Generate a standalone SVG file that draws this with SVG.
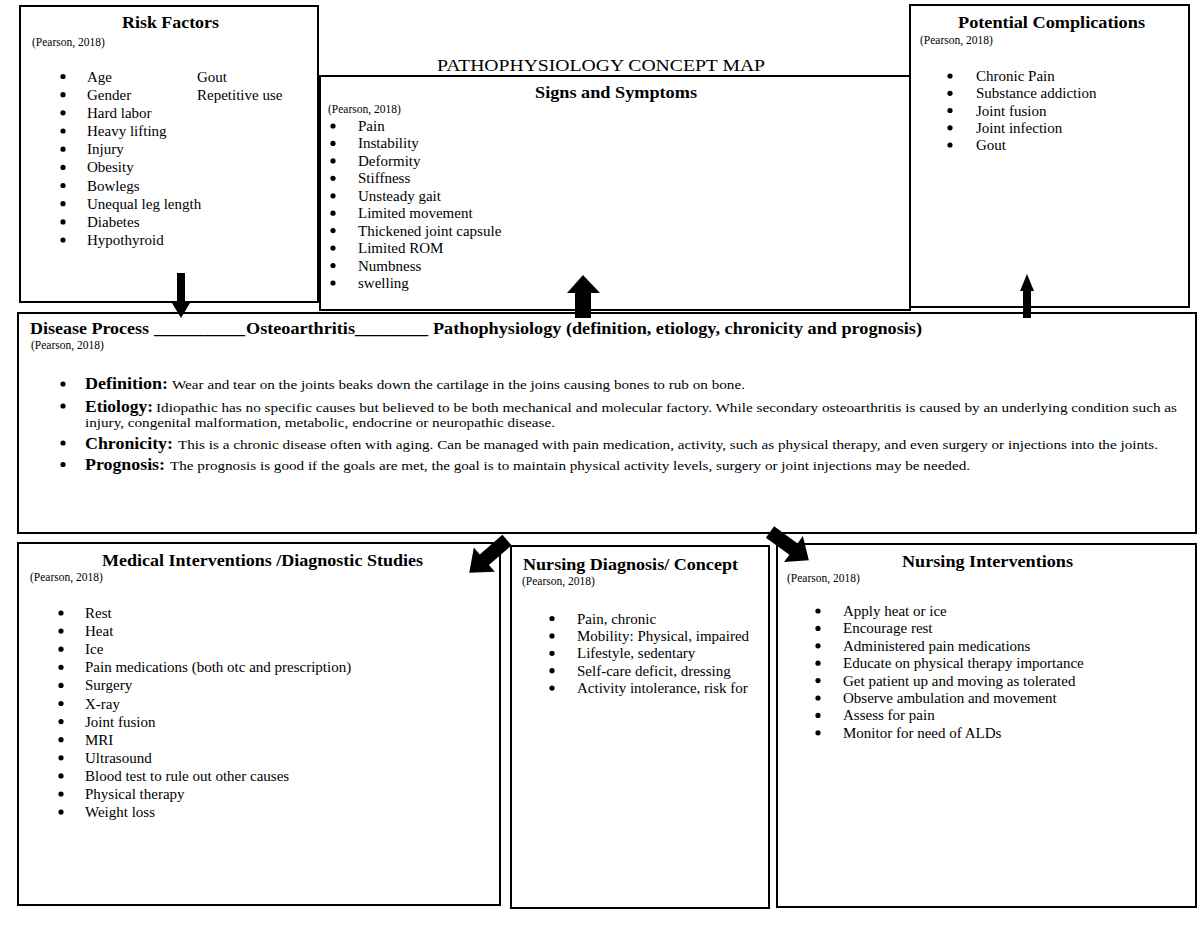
<svg xmlns="http://www.w3.org/2000/svg" width="1200" height="927" viewBox="0 0 1200 927">
<style>
.box{fill:#fff;stroke:#000;stroke-width:2}
text{font-family:"Liberation Serif","Times New Roman",serif;fill:#000}
.ttl{font-size:17px;font-weight:bold}
.cite{font-size:11.5px}
.li{font-size:15px}
.lb{font-size:16px;font-weight:bold}
.bd{font-size:13px}
.bul{fill:#000}
.arr{fill:#000;stroke:none}
</style>
<rect width="1200" height="927" fill="#fff"/>

<g id="risk-factors">
<rect class="box" x="20" y="6" width="298" height="296"/>
<text class="ttl" x="170.5" y="28" text-anchor="middle" textLength="97" lengthAdjust="spacingAndGlyphs">Risk Factors</text>
<text class="cite" x="32" y="46">(Pearson, 2018)</text>
<g class="bul">
<circle cx="63" cy="76.5" r="2.6"/><circle cx="63" cy="94.7" r="2.6"/><circle cx="63" cy="112.8" r="2.6"/><circle cx="63" cy="131" r="2.6"/><circle cx="63" cy="149.2" r="2.6"/><circle cx="63" cy="167.4" r="2.6"/><circle cx="63" cy="185.5" r="2.6"/><circle cx="63" cy="203.7" r="2.6"/><circle cx="63" cy="221.9" r="2.6"/><circle cx="63" cy="240" r="2.6"/>
</g>
<text class="li" x="87" y="81.5">Age</text>
<text class="li" x="87" y="99.7">Gender</text>
<text class="li" x="87" y="117.8">Hard labor</text>
<text class="li" x="87" y="136">Heavy lifting</text>
<text class="li" x="87" y="154.2">Injury</text>
<text class="li" x="87" y="172.4">Obesity</text>
<text class="li" x="87" y="190.5">Bowlegs</text>
<text class="li" x="87" y="208.7">Unequal leg length</text>
<text class="li" x="87" y="226.9">Diabetes</text>
<text class="li" x="87" y="245">Hypothyroid</text>
<text class="li" x="197" y="81.5">Gout</text>
<text class="li" x="197" y="99.7">Repetitive use</text>
</g>

<g id="title">
<text x="601" y="71" text-anchor="middle" font-size="16" textLength="328" lengthAdjust="spacingAndGlyphs">PATHOPHYSIOLOGY CONCEPT MAP</text>
</g>

<g id="signs-symptoms">
<rect class="box" x="320" y="76" width="590" height="234"/>
<text class="ttl" x="616" y="98" text-anchor="middle" textLength="162" lengthAdjust="spacingAndGlyphs">Signs and Symptoms</text>
<text class="cite" x="328" y="113">(Pearson, 2018)</text>
<g class="bul">
<circle cx="333" cy="126" r="2.6"/><circle cx="333" cy="143.4" r="2.6"/><circle cx="333" cy="160.9" r="2.6"/><circle cx="333" cy="178.3" r="2.6"/><circle cx="333" cy="195.8" r="2.6"/><circle cx="333" cy="213.2" r="2.6"/><circle cx="333" cy="230.6" r="2.6"/><circle cx="333" cy="248.1" r="2.6"/><circle cx="333" cy="265.5" r="2.6"/><circle cx="333" cy="283" r="2.6"/>
</g>
<text class="li" x="358" y="131">Pain</text>
<text class="li" x="358" y="148.4">Instability</text>
<text class="li" x="358" y="165.9">Deformity</text>
<text class="li" x="358" y="183.3">Stiffness</text>
<text class="li" x="358" y="200.8">Unsteady gait</text>
<text class="li" x="358" y="218.2">Limited movement</text>
<text class="li" x="358" y="235.6">Thickened joint capsule</text>
<text class="li" x="358" y="253.1">Limited ROM</text>
<text class="li" x="358" y="270.5">Numbness</text>
<text class="li" x="358" y="288">swelling</text>
</g>

<g id="complications">
<rect class="box" x="910" y="5" width="279" height="302"/>
<text class="ttl" x="1051.5" y="28" text-anchor="middle" textLength="187" lengthAdjust="spacingAndGlyphs">Potential Complications</text>
<text class="cite" x="920" y="44">(Pearson, 2018)</text>
<g class="bul">
<circle cx="950" cy="76" r="2.6"/><circle cx="950" cy="93.3" r="2.6"/><circle cx="950" cy="110.5" r="2.6"/><circle cx="950" cy="127.8" r="2.6"/><circle cx="950" cy="145" r="2.6"/>
</g>
<text class="li" x="976" y="81">Chronic Pain</text>
<text class="li" x="976" y="98.3">Substance addiction</text>
<text class="li" x="976" y="115.5">Joint fusion</text>
<text class="li" x="976" y="132.8">Joint infection</text>
<text class="li" x="976" y="150">Gout</text>
</g>

<g id="disease-process">
<rect class="box" x="18" y="313" width="1178" height="220"/>
<text class="ttl" x="30" y="334" textLength="119" lengthAdjust="spacingAndGlyphs">Disease Process</text>
<text class="ttl" x="154" y="334" textLength="91" lengthAdjust="spacingAndGlyphs">___________</text>
<text class="ttl" x="246" y="334" textLength="109" lengthAdjust="spacingAndGlyphs">Osteoarthritis</text>
<text class="ttl" x="355" y="334" textLength="73" lengthAdjust="spacingAndGlyphs">________</text>
<text class="ttl" x="433" y="334" textLength="489" lengthAdjust="spacingAndGlyphs">Pathophysiology (definition, etiology, chronicity and prognosis)</text>
<text class="cite" x="31" y="349">(Pearson, 2018)</text>
<g class="bul">
<circle cx="63" cy="384" r="2.6"/><circle cx="63" cy="406" r="2.6"/><circle cx="63" cy="443" r="2.6"/><circle cx="63" cy="464.5" r="2.6"/>
</g>
<text class="lb" x="85" y="389" textLength="83" lengthAdjust="spacingAndGlyphs">Definition:</text>
<text class="bd" x="172" y="389" textLength="573" lengthAdjust="spacingAndGlyphs">Wear and tear on the joints beaks down the cartilage in the joins causing bones to rub on bone.</text>
<text class="lb" x="85" y="411.5" textLength="68" lengthAdjust="spacingAndGlyphs">Etiology:</text>
<text class="bd" x="156" y="411.5" textLength="1021" lengthAdjust="spacingAndGlyphs">Idiopathic has no specific causes but believed to be both mechanical and molecular factory. While secondary osteoarthritis is caused by an underlying condition such as</text>
<text class="bd" x="85" y="427" textLength="470" lengthAdjust="spacingAndGlyphs">injury, congenital malformation, metabolic, endocrine or neuropathic disease.</text>
<text class="lb" x="85" y="449" textLength="88" lengthAdjust="spacingAndGlyphs">Chronicity:</text>
<text class="bd" x="178" y="449" textLength="980" lengthAdjust="spacingAndGlyphs">This is a chronic disease often with aging. Can be managed with pain medication, activity, such as physical therapy, and even surgery or injections into the joints.</text>
<text class="lb" x="85" y="470" textLength="80" lengthAdjust="spacingAndGlyphs">Prognosis:</text>
<text class="bd" x="170" y="470" textLength="800" lengthAdjust="spacingAndGlyphs">The prognosis is good if the goals are met, the goal is to maintain physical activity levels, surgery or joint injections may be needed.</text>
</g>

<g id="medical-interventions">
<rect class="box" x="18" y="543" width="482" height="362"/>
<text class="ttl" x="262.5" y="566" text-anchor="middle" textLength="321" lengthAdjust="spacingAndGlyphs">Medical Interventions /Diagnostic Studies</text>
<text class="cite" x="30" y="581">(Pearson, 2018)</text>
<g class="bul">
<circle cx="61" cy="613" r="2.6"/><circle cx="61" cy="631.1" r="2.6"/><circle cx="61" cy="649.2" r="2.6"/><circle cx="61" cy="667.3" r="2.6"/><circle cx="61" cy="685.4" r="2.6"/><circle cx="61" cy="703.5" r="2.6"/><circle cx="61" cy="721.6" r="2.6"/><circle cx="61" cy="739.7" r="2.6"/><circle cx="61" cy="757.8" r="2.6"/><circle cx="61" cy="775.9" r="2.6"/><circle cx="61" cy="794" r="2.6"/><circle cx="61" cy="812.1" r="2.6"/>
</g>
<text class="li" x="85" y="618">Rest</text>
<text class="li" x="85" y="636.1">Heat</text>
<text class="li" x="85" y="654.2">Ice</text>
<text class="li" x="85" y="672.3">Pain medications (both otc and prescription)</text>
<text class="li" x="85" y="690.4">Surgery</text>
<text class="li" x="85" y="708.5">X-ray</text>
<text class="li" x="85" y="726.6">Joint fusion</text>
<text class="li" x="85" y="744.7">MRI</text>
<text class="li" x="85" y="762.8">Ultrasound</text>
<text class="li" x="85" y="780.9">Blood test to rule out other causes</text>
<text class="li" x="85" y="799">Physical therapy</text>
<text class="li" x="85" y="817.1">Weight loss</text>
</g>

<g id="nursing-diagnosis">
<rect class="box" x="511" y="546" width="258" height="362"/>
<text class="ttl" x="523" y="570" textLength="215" lengthAdjust="spacingAndGlyphs">Nursing Diagnosis/ Concept</text>
<text class="cite" x="522" y="585">(Pearson, 2018)</text>
<g class="bul">
<circle cx="552" cy="618.5" r="2.6"/><circle cx="552" cy="635.9" r="2.6"/><circle cx="552" cy="653.3" r="2.6"/><circle cx="552" cy="670.7" r="2.6"/><circle cx="552" cy="688.1" r="2.6"/>
</g>
<text class="li" x="577" y="623.5">Pain, chronic</text>
<text class="li" x="577" y="640.9">Mobility: Physical, impaired</text>
<text class="li" x="577" y="658.3">Lifestyle, sedentary</text>
<text class="li" x="577" y="675.7">Self-care deficit, dressing</text>
<text class="li" x="577" y="693.1">Activity intolerance, risk for</text>
</g>

<g id="nursing-interventions">
<rect class="box" x="777" y="544" width="419" height="363"/>
<text class="ttl" x="987.5" y="567" text-anchor="middle" textLength="171" lengthAdjust="spacingAndGlyphs">Nursing Interventions</text>
<text class="cite" x="787" y="582">(Pearson, 2018)</text>
<g class="bul">
<circle cx="818" cy="611" r="2.6"/><circle cx="818" cy="628.4" r="2.6"/><circle cx="818" cy="645.8" r="2.6"/><circle cx="818" cy="663.2" r="2.6"/><circle cx="818" cy="680.6" r="2.6"/><circle cx="818" cy="698" r="2.6"/><circle cx="818" cy="715.4" r="2.6"/><circle cx="818" cy="732.8" r="2.6"/>
</g>
<text class="li" x="843" y="616">Apply heat or ice</text>
<text class="li" x="843" y="633.4">Encourage rest</text>
<text class="li" x="843" y="650.8">Administered pain medications</text>
<text class="li" x="843" y="668.2">Educate on physical therapy importance</text>
<text class="li" x="843" y="685.6">Get patient up and moving as tolerated</text>
<text class="li" x="843" y="703">Observe ambulation and movement</text>
<text class="li" x="843" y="720.4">Assess for pain</text>
<text class="li" x="843" y="737.8">Monitor for need of ALDs</text>
</g>

<g id="connectors">
<path class="arr" d="M177,273 H185 V303 H190 L181,318 L172,303 H177 Z"/>
<path class="arr" d="M583,275 L600,293 H591 V318 H575 V293 H567 Z"/>
<path class="arr" d="M1027,274 L1034,291 H1031 V318 H1023 V291 H1020 Z"/>
<path class="arr" transform="translate(507,540) rotate(139)" d="M0,-7 L30,-7 L30,-16 L50,0 L30,16 L30,7 L0,7 Z"/>
<path class="arr" transform="translate(770,532) rotate(36)" d="M0,-7 L29,-7 L29,-16 L48,0 L29,16 L29,7 L0,7 Z"/>
</g>
</svg>
